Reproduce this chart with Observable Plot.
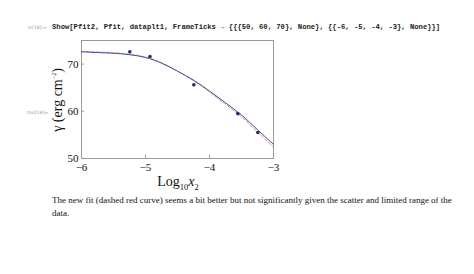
<!DOCTYPE html>
<html><head><meta charset="utf-8">
<script src="https://cdn.jsdelivr.net/npm/d3@7"></script>
<script src="https://cdn.jsdelivr.net/npm/@observablehq/plot@0.6"></script>
<style>
body{margin:0;background:#fff;}
#wrap{position:relative;width:474px;height:274px;overflow:hidden;}
#wrap svg{position:absolute;left:0;top:0;}
.t{position:absolute;white-space:nowrap;}
.gray{font-family:"DejaVu Sans",sans-serif;font-size:4.5px;color:#999;}
.code{font-family:"Liberation Mono",monospace;font-weight:bold;font-size:7.2px;color:#222;}
.serif{font-family:"Liberation Serif",serif;color:#111;}
</style></head>
<body><div id="wrap">
<div class="t gray" style="left:28px;top:25px;">In[18]:=</div>
<div class="t code" style="left:52px;top:23px;">Show[Pfit2, Pfit, dataplt1, FrameTicks → {{{50, 60, 70}, None}, {{-6, -5, -4, -3}, None}}]</div>
<div class="t gray" style="left:27px;top:110px;">Out[18]=</div>
<div class="t serif" style="left:58px;top:100px;font-size:14px;transform:translate(-50%,-50%) rotate(-90deg);">γ (erg cm<sup style="font-size:6px">−2</sup>)</div>
<div class="t serif" style="left:178px;top:183px;font-size:14px;transform:translate(-50%,-50%);">Log<sub style="font-size:8.5px">10</sub><i>x</i><sub style="font-size:8.5px">2</sub></div>
<div class="t serif" style="left:52px;top:194px;font-size:9px;line-height:13px;">The new fit (dashed red curve) seems a bit better but not significantly given the scatter and limited range of the<br>data.</div>
</div>
<script>
const dataL = [-5.245, -4.93, -4.245, -3.557, -3.245];
const dataG = [72.6, 71.6, 65.6, 59.5, 55.5];
const curveL = [-6, -5.75, -5.5, -5.25, -5, -4.75, -4.5, -4.25, -4, -3.75, -3.5, -3.25, -3];
const fitBlue = [72.6, 72.45, 72.3, 72.0, 71.4, 70.2, 68.5, 66.6, 64.3, 61.8, 59.2, 56.1, 53.0];
const fitRed  = [72.7, 72.55, 72.4, 72.1, 71.5, 70.3, 68.5, 66.5, 64.1, 61.5, 58.8, 55.6, 52.4];
const xTicks = [-6, -5, -4, -3];
const yTicks = [50, 60, 70];

const pts = dataL.map((x, i) => ({x, y: dataG[i]}));
const blue = curveL.map((x, i) => ({x, y: fitBlue[i]}));
const red = curveL.map((x, i) => ({x, y: fitRed[i]}));

const chart = Plot.plot({
  width: 474, height: 274,
  marginLeft: 81, marginRight: 201, marginTop: 40, marginBottom: 116,
  x: {domain: [-6, -3]},
  y: {domain: [50, 75]},
  style: {fontFamily: "Liberation Serif, serif", fontSize: "11px", color: "#111", background: "transparent"},
  marks: [
    Plot.frame({stroke: "#9a9a9a", strokeWidth: 1}),
    Plot.tickX(xTicks, {x: d => d, insetTop: 115, stroke: "#9a9a9a"}),
    Plot.tickY(yTicks, {y: d => d, insetRight: 189, stroke: "#9a9a9a"}),
    Plot.line(red, {x: "x", y: "y", curve: "natural", stroke: "#e8899a", strokeWidth: 1, strokeDasharray: "3,2"}),
    Plot.line(blue, {x: "x", y: "y", curve: "natural", stroke: "#4a4a96", strokeWidth: 1}),
    Plot.dot(pts, {x: "x", y: "y", r: 1.8, fill: "#2a2a70", stroke: null}),
    Plot.axisX(xTicks, {tickSize: 0, tickPadding: 5, fontSize: 11, label: null}),
    Plot.axisY(yTicks, {tickSize: 0, tickPadding: 3, fontSize: 11, label: null})
  ]
});
document.getElementById("wrap").prepend(chart);
</script>
</body></html>
